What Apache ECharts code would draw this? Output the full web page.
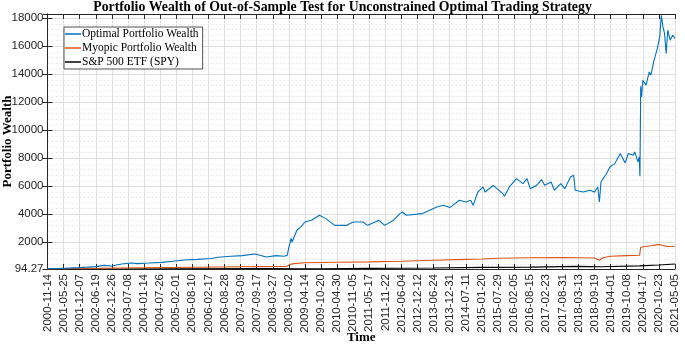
<!DOCTYPE html>
<html>
<head>
<meta charset="utf-8">
<script src="https://cdn.jsdelivr.net/npm/echarts@6/dist/echarts.min.js"></script>
<style>
  html, body { margin: 0; padding: 0; background: #fff; }
  #chart { width: 685px; height: 344px; }
</style>
</head>
<body>
<div id="chart"></div>
<script>
// x tick labels (one per tick index 0..39)
const xTickLabels = [
  "2000-11-14", "2001-05-25", "2001-12-07", "2002-06-19", "2002-12-26",
  "2003-07-08", "2004-01-14", "2004-07-26", "2005-02-01", "2005-08-10",
  "2006-02-17", "2006-08-28", "2007-03-09", "2007-09-17", "2008-03-27",
  "2008-10-02", "2009-04-14", "2009-10-20", "2010-04-30", "2010-11-05",
  "2011-05-17", "2011-11-22", "2012-06-04", "2012-12-12", "2013-06-24",
  "2013-12-31", "2014-07-11", "2015-01-20", "2015-07-29", "2016-02-05",
  "2016-08-15", "2017-02-23", "2017-08-31", "2018-03-13", "2018-09-19",
  "2019-04-01", "2019-10-08", "2020-04-17", "2020-10-23", "2021-05-05"
];

// positions measured in tick units (0 = first tick, 39 = last)
const optimalX = [
  0, 1.0, 1.9, 2.5, 3.0, 3.05, 3.5, 4.0, 4.6, 5.2, 5.6, 6.3, 7.1, 7.8, 8.5, 9.3,
  10.2, 10.6, 11.4, 12.1, 12.9, 13.6, 14.2, 14.7, 14.9, 15.0, 15.15, 15.2, 15.5,
  15.75, 16.0, 16.4, 16.9, 17.3, 17.85, 18.6, 19.0, 19.6, 19.9, 20.6, 20.96, 21.5,
  21.9, 22.05, 22.3, 23.3, 24.2, 24.6, 25.0, 25.6, 26.0, 26.3, 26.45, 26.75, 27.07,
  27.2, 27.7, 28.3, 28.4, 28.7, 29.15, 29.55, 29.8, 30.0, 30.4, 30.7, 30.9, 31.3,
  31.5, 31.9, 32.15, 32.5, 32.7, 32.8, 33.3, 33.7, 34.0, 34.2, 34.3, 34.4, 34.75,
  34.95, 35.26, 35.6, 35.9, 36.1, 36.4, 36.5, 36.7, 36.78, 36.82, 36.87, 36.92,
  37.0, 37.2, 37.4, 37.5, 37.7, 37.9, 38.05, 38.15, 38.25, 38.35, 38.45, 38.55,
  38.7, 38.85, 39.0
];
const optimalWealth = [
  100, 150, 190, 230, 265, 380, 350, 310, 450, 520, 480, 520, 570, 650, 740, 780,
  840, 930, 1000, 1050, 1160, 950, 1050, 1000, 1070, 1660, 2290, 2020, 2860,
  3100, 3450, 3570, 3930, 3690, 3210, 3210, 3450, 3450, 3210, 3570, 3210, 3570,
  4050, 4160, 3930, 4050, 4520, 4640, 4480, 5000, 4880, 5000, 4640, 5590, 5950,
  5590, 6070, 5480, 5290, 5950, 6550, 6190, 6550, 5830, 6070, 6480, 6070, 6310,
  5720, 6190, 5830, 6670, 6790, 5720, 5590, 5720, 5590, 5950, 4880, 6310, 6910,
  7380, 7620, 8340, 7670, 8340, 8220, 8450, 7740, 8100, 6720, 13140, 12380,
  13570, 13220, 14160, 13930, 15000, 15830, 16660, 18210, 17380, 16910, 15480, 17140,
  16430, 16790, 16550
];

const myopicX = [
  0, 3, 6, 9, 12, 14.9, 15.05, 15.3, 16, 18, 20, 22, 24, 26, 27, 28, 30, 32, 34,
  34.3, 34.5, 35, 36, 36.8, 36.87, 37.5, 38, 38.5, 39
];
const myopicWealth = [
  100, 150, 180, 220, 250, 280, 420, 480, 540, 580, 600, 650, 720, 780, 810, 860,
  900, 920, 880, 720, 900, 1000, 1050, 1080, 1650, 1750, 1850, 1700, 1720
];

const spyX = [0, 4, 8, 14, 15.5, 17, 20, 24, 27, 30, 33, 34.4, 36.8, 36.9, 38, 39];
const spyWealth = [100, 95, 110, 130, 100, 110, 140, 170, 210, 230, 280, 260, 320, 250, 380, 450];

const zip = (xs, ys) => xs.map((x, i) => [x, ys[i]]);

const axisColor = "#262626";
const serif = "Liberation Serif";
const sans = "Liberation Sans";

const chart = echarts.init(document.getElementById("chart"));
chart.setOption({
  animation: false,
  title: {
    text: "Portfolio Wealth of Out-of-Sample Test for Unconstrained Optimal Trading Strategy",
    left: "center",
    top: -5,
    textStyle: { fontFamily: serif, fontWeight: "bold", fontSize: 13.8, color: "#000" }
  },
  grid: { left: 47.5, right: 10, top: 14, bottom: 75, outerBoundsMode: "none" },
  legend: {
    orient: "vertical",
    left: 64,
    top: 27,
    backgroundColor: "#fff",
    borderColor: axisColor,
    borderWidth: 0.8,
    borderRadius: 0,
    padding: [1, 4, 1, 1],
    itemGap: 2,
    itemWidth: 16,
    itemHeight: 1.5,
    icon: "rect",
    textStyle: { fontFamily: serif, fontSize: 11.5, color: "#000", padding: [0, 0, 0, -4], lineHeight: 12 },
    data: ["Optimal Portfolio Wealth", "Myopic Portfolio Wealth", "S&P 500 ETF (SPY)"]
  },
  xAxis: [
    {
      type: "value",
      min: 0,
      max: 39,
      interval: 1,
      name: "Time",
      nameLocation: "middle",
      nameGap: 62,
      nameMoveOverlap: false,
      nameTextStyle: { fontFamily: serif, fontWeight: "bold", fontSize: 13, color: "#000" },
      axisLine: { lineStyle: { color: axisColor, width: 1 } },
      axisTick: { inside: true, length: 5, lineStyle: { color: axisColor } },
      axisLabel: {
        rotate: 90,
        margin: 5,
        fontFamily: sans,
        fontSize: 11.5,
        color: axisColor,
        formatter: (v) => xTickLabels[v] || ""
      },
      splitLine: { show: true, lineStyle: { color: "#dfdfdf", width: 1 } }
    },
    {
      type: "value",
      position: "top",
      min: 0,
      max: 39,
      interval: 1,
      axisLine: { lineStyle: { color: axisColor, width: 1 } },
      axisTick: { inside: true, length: 5, lineStyle: { color: axisColor } },
      axisLabel: { show: false },
      splitLine: { show: false }
    }
  ],
  yAxis: [
    {
      type: "value",
      min: 94.27,
      max: 18300,
      splitNumber: 9,
      name: "Portfolio Wealth",
      nameLocation: "middle",
      nameGap: 33,
      nameMoveOverlap: false,
      nameTextStyle: { fontFamily: serif, fontWeight: "bold", fontSize: 13, color: "#000" },
      axisLine: { show: true, lineStyle: { color: axisColor, width: 1 } },
      axisTick: { show: true, inside: true, length: 5, lineStyle: { color: axisColor } },
      axisLabel: {
        showMaxLabel: false,
        margin: 4,
        fontFamily: sans,
        fontSize: 11.5,
        color: axisColor,
        formatter: (v) => String(Math.round(v * 100) / 100)
      },
      splitLine: { show: true, lineStyle: { color: "#dfdfdf", width: 1 } },
      minorTick: { show: false, splitNumber: 5 },
      minorSplitLine: { show: true, lineStyle: { color: "#e8e8e8", width: 1, type: [2, 2] } }
    },
    {
      type: "value",
      position: "right",
      min: 94.27,
      max: 18300,
      splitNumber: 9,
      axisLine: { show: true, lineStyle: { color: axisColor, width: 1 } },
      axisTick: { show: true, inside: true, length: 5, lineStyle: { color: axisColor } },
      axisLabel: { show: false },
      splitLine: { show: false }
    }
  ],
  series: [
    {
      name: "Optimal Portfolio Wealth",
      type: "line",
      symbol: "none",
      data: zip(optimalX, optimalWealth),
      lineStyle: { color: "#0072BD", width: 1.1 },
      itemStyle: { color: "#0072BD" },
      z: 4
    },
    {
      name: "Myopic Portfolio Wealth",
      type: "line",
      symbol: "none",
      data: zip(myopicX, myopicWealth),
      lineStyle: { color: "#D95319", width: 1.1 },
      itemStyle: { color: "#D95319" },
      z: 3
    },
    {
      name: "S&P 500 ETF (SPY)",
      type: "line",
      symbol: "none",
      data: zip(spyX, spyWealth),
      lineStyle: { color: "#000", width: 1.1 },
      itemStyle: { color: "#000" },
      z: 2
    }
  ]
});
</script>
</body>
</html>
